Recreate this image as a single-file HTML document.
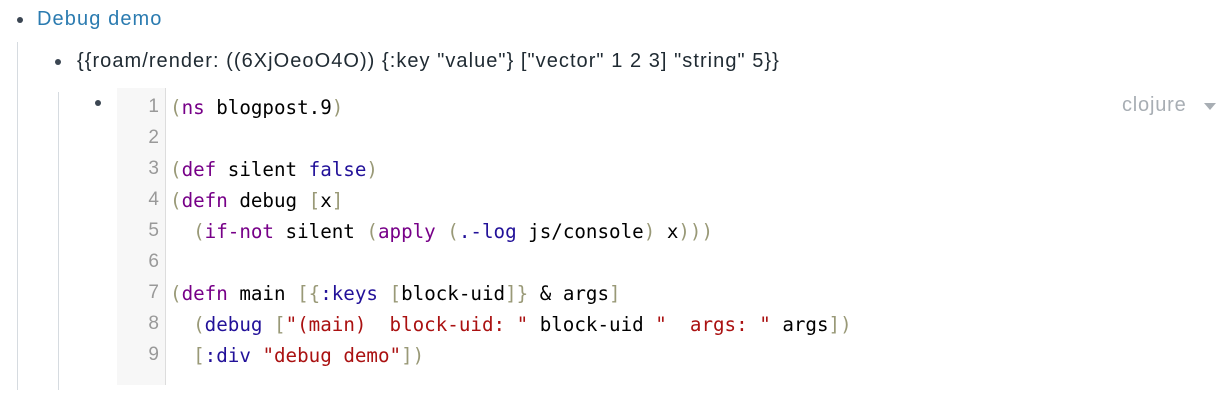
<!DOCTYPE html>
<html><head><meta charset="utf-8"><style>
body{margin:0;width:1228px;height:403px;background:#fff;position:relative;overflow:hidden;font-family:"Liberation Sans",sans-serif}
.a{position:absolute}
.dot{position:absolute;width:6px;height:6px;border-radius:50%;background:#3b4652}
.vl{position:absolute;width:1px;background:#d6dbe0}
.code{position:absolute;left:117px;top:88px;width:1100px;height:297px}
.gut{position:absolute;left:0;top:0;width:48px;height:297px;background:#f7f7f7;border-right:1px solid #ddd}
.ln{position:absolute;left:0;width:42px;text-align:right;color:#999;font:19px "Liberation Sans",sans-serif}
.cl{position:absolute;left:53px;font:19.2px "DejaVu Sans Mono",monospace;white-space:pre;color:#000}
.k{color:#708}.b{color:#221199}.p{color:#997}.s{color:#a11}
</style></head><body>
<div class="dot" style="left:17px;top:17px"></div>
<div class="a" style="left:37px;top:8px;font-size:20px;letter-spacing:1.1px;color:#2b7bb0">Debug demo</div>
<div class="vl" style="left:17px;top:42px;height:348px"></div>
<div class="dot" style="left:55px;top:59px"></div>
<div class="a" style="left:77px;top:50px;font-size:20px;letter-spacing:1.05px;color:#202b33">{{roam/render: ((6XjOeoO4O)) {:key "value"} ["vector" 1 2 3] "string" 5}}</div>
<div class="vl" style="left:58px;top:92px;height:298px"></div>
<div class="dot" style="left:95px;top:100px"></div>
<div class="code">
<div class="gut"></div>
<div class="ln" style="top:8px">1</div><div class="ln" style="top:39px">2</div><div class="ln" style="top:70px">3</div><div class="ln" style="top:101px">4</div><div class="ln" style="top:132px">5</div><div class="ln" style="top:163px">6</div><div class="ln" style="top:194px">7</div><div class="ln" style="top:225px">8</div><div class="ln" style="top:256px">9</div>
<div class="cl" style="top:8px"><span class="p">(</span><span class="k">ns</span> blogpost.9<span class="p">)</span></div>
<div class="cl" style="top:70px"><span class="p">(</span><span class="k">def</span> silent <span class="b">false</span><span class="p">)</span></div>
<div class="cl" style="top:101px"><span class="p">(</span><span class="k">defn</span> debug <span class="p">[</span>x<span class="p">]</span></div>
<div class="cl" style="top:132px">  <span class="p">(</span><span class="k">if-not</span> silent <span class="p">(</span><span class="k">apply</span> <span class="p">(</span><span class="b">.-log</span> js/console<span class="p">)</span> x<span class="p">)))</span></div>
<div class="cl" style="top:194px"><span class="p">(</span><span class="k">defn</span> main <span class="p">[{</span><span class="b">:keys</span> <span class="p">[</span>block-uid<span class="p">]}</span> &amp; args<span class="p">]</span></div>
<div class="cl" style="top:225px">  <span class="p">(</span><span class="b">debug</span> <span class="p">[</span><span class="s">"(main)  block-uid: "</span> block-uid <span class="s">"  args: "</span> args<span class="p">])</span></div>
<div class="cl" style="top:256px">  <span class="p">[</span><span class="b">:div</span> <span class="s">"debug demo"</span><span class="p">])</span></div>
</div>
<div class="a" style="left:1122px;top:94px;font-size:20px;letter-spacing:0.8px;color:#a8aeb4">clojure</div>
<div class="a" style="left:1204px;top:103px;width:0;height:0;border-left:6px solid transparent;border-right:6px solid transparent;border-top:7px solid #a8aeb4"></div>
</body></html>
